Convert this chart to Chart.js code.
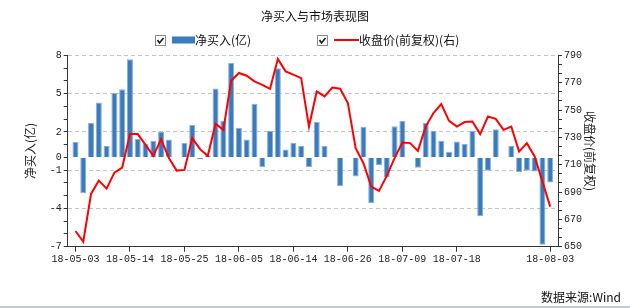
<!DOCTYPE html>
<html>
<head>
<meta charset="utf-8">
<script src="https://cdn.jsdelivr.net/npm/chart.js@4.4.1/dist/chart.umd.min.js"></script>
<style>
html, body { margin: 0; padding: 0; background: #fff; }
#wrap { width: 630px; height: 306px; border-bottom: 2px solid #c3cad4; }
</style>
</head>
<body>
<div id="wrap"><canvas id="chart"></canvas></div>
<script>
// trading days (northbound), net buy in 100m yuan, close price (forward adjusted)
const dates = [
  '18-05-03','18-05-04','18-05-07','18-05-08','18-05-09','18-05-10','18-05-11',
  '18-05-14','18-05-15','18-05-16','18-05-17','18-05-18','18-05-23','18-05-24',
  '18-05-25','18-05-28','18-05-29','18-05-30','18-05-31','18-06-01','18-06-04',
  '18-06-05','18-06-06','18-06-07','18-06-08','18-06-11','18-06-12','18-06-13',
  '18-06-14','18-06-15','18-06-19','18-06-20','18-06-21','18-06-22','18-06-25',
  '18-06-26','18-06-27','18-06-28','18-07-03','18-07-04','18-07-05','18-07-06',
  '18-07-09','18-07-10','18-07-11','18-07-12','18-07-13','18-07-16','18-07-17',
  '18-07-18','18-07-19','18-07-20','18-07-23','18-07-24','18-07-25','18-07-26',
  '18-07-27','18-07-30','18-07-31','18-08-01','18-08-02','18-08-03'
];
const netBuy = [
  1.2, -2.8, 2.7, 4.3, 0.9, 5.05, 5.35, 7.7, 1.45, 1.07,
  1.3, 2.0, 1.4, 0.05, 1.15, 2.55, -0.15, 0.18, 5.4, 2.85,
  7.4, 2.33, 1.4, 4.2, -0.75, 2.1, 7.0, 0.63, 1.15, 0.9,
  -0.75, 2.8, 0.9, 0.05, -2.25, 0.05, -1.5, 2.4, -3.6, -0.6,
  -1.55, 2.45, 2.85, -0.05, -0.8, 2.7, 2.1, 1.3, 0.45, 1.25,
  1.05, 2.1, -4.6, -1.05, 2.2, 0.05, 0.9, -1.15, -1.05, -1.1,
  -6.85, -1.97
];
const closePrice = [
  661.5, 653.6, 688.6, 698.4, 692.5, 704.2, 707.9, 732.4, 732.4, 724.5,
  716.5, 728.7, 714.8, 705.7, 706.2, 729.4, 721.4, 716.5, 740.0, 735.5,
  771.4, 777.1, 775.1, 771.0, 768.5, 765.5, 787.3, 778.3, 775.9, 773.4,
  737.9, 763.6, 760.0, 766.5, 765.6, 755.1, 722.1, 711.1, 694.0, 690.8,
  701.8, 714.8, 726.2, 725.8, 720.1, 737.9, 747.8, 754.4, 742.1, 737.9,
  741.2, 741.6, 732.4, 745.3, 743.6, 735.5, 737.9, 719.6, 725.8, 716.0,
  697.6, 679.3
];
const xTickLabels = ['18-05-03','18-05-14','18-05-25','18-06-05','18-06-14','18-06-26','18-07-09','18-07-18','18-08-03'];
const leftTickLabels = [8, 5, 2, 0, -1, -4, -7];
const leftGridLines = [8, 5, 2, -1, -4];
const leftMin = -7, leftMax = 8;
const rightMin = 650, rightMax = 790, rightStep = 20;

const seriesNames = ['净买入(亿)', '收盘价(前复权)(右)'];
const cjk = '"Noto Sans CJK SC", sans-serif';
const mono = '"Liberation Mono", monospace';
Chart.defaults.font.family = cjk;
Chart.defaults.color = '#222';

function drawCheckBox(ctx, x, y) {
  ctx.fillStyle = '#fff';
  ctx.fillRect(x, y, 11, 11);
  ctx.strokeStyle = '#8a8a8a';
  ctx.lineWidth = 1;
  ctx.strokeRect(x + 0.5, y + 0.5, 10, 10);
  ctx.strokeStyle = '#1a1a1a';
  ctx.lineWidth = 1.6;
  ctx.beginPath();
  ctx.moveTo(x + 2.5, y + 5);
  ctx.lineTo(x + 4.5, y + 8);
  ctx.lineTo(x + 8.5, y + 3);
  ctx.stroke();
}

// legend with checkboxes + source note
const extras = {
  id: 'extras',
  afterDraw(chart) {
    const ctx = chart.ctx;
    ctx.save();
    ctx.font = '12px ' + cjk;
    ctx.textBaseline = 'middle';
    ctx.textAlign = 'left';
    const ly = 40;

    drawCheckBox(ctx, 155, ly - 5);
    ctx.fillStyle = chart.data.datasets[1].backgroundColor;
    ctx.fillRect(172, ly - 3.5, 23, 7);
    ctx.fillStyle = '#111';
    ctx.fillText(seriesNames[0], 195, ly);

    drawCheckBox(ctx, 317, ly - 5);
    ctx.strokeStyle = chart.data.datasets[0].borderColor;
    ctx.lineWidth = 2;
    ctx.beginPath();
    ctx.moveTo(334, ly);
    ctx.lineTo(359, ly);
    ctx.stroke();
    ctx.fillStyle = '#111';
    ctx.fillText(seriesNames[1], 359, ly);

    ctx.textAlign = 'right';
    ctx.fillText('数据来源:Wind', 621, 297);
    ctx.restore();
  }
};

new Chart(document.getElementById('chart'), {
  type: 'bar',
  data: {
    datasets: [{
      type: 'line',
      label: seriesNames[1],
      data: closePrice.map((v, i) => ({x: i, y: v})),
      yAxisID: 'y1',
      borderColor: '#ff0000',
      borderWidth: 2,
      pointRadius: 0,
      tension: 0,
      order: 0
    }, {
      type: 'bar',
      label: seriesNames[0],
      data: netBuy.map((v, i) => ({x: i, y: v})),
      yAxisID: 'y',
      backgroundColor: '#3a7bbd',
      borderColor: '#86afdb',
      borderWidth: 1,
      categoryPercentage: 1,
      barPercentage: 0.77,
      order: 1
    }]
  },
  options: {
    responsive: true,
    maintainAspectRatio: false,
    animation: false,
    layout: { padding: 0 },
    plugins: {
      legend: { display: false },
      tooltip: { enabled: false },
      title: {
        display: true,
        text: '净买入与市场表现图',
        color: '#111',
        font: { size: 12, weight: 'normal' },
        padding: { top: 9, bottom: 32 }
      }
    },
    scales: {
      x: {
        type: 'linear',
        min: -1,
        max: dates.length,
        offset: false,
        afterBuildTicks: axis => {
          axis.ticks = xTickLabels.map(l => ({value: dates.indexOf(l)}));
        },
        afterFit: axis => { axis.height = 59.3; },
        ticks: {
          autoSkip: false,
          maxRotation: 0,
          padding: 2,
          font: { family: mono, size: 10 },
          callback: v => dates[v]
        },
        grid: { drawOnChartArea: false, offset: false, tickLength: 5, tickColor: '#333' },
        border: { color: '#333' }
      },
      y: {
        position: 'left',
        min: leftMin,
        max: leftMax,
        afterBuildTicks: axis => {
          const t = [];
          for (let v = leftMin; v <= leftMax; v++) t.push({value: v});
          axis.ticks = t;
        },
        afterFit: axis => { axis.width = 67.7; },
        ticks: {
          autoSkip: false,
          padding: 2,
          font: { family: mono, size: 10 },
          callback: v => leftTickLabels.includes(v) ? String(v) : ''
        },
        grid: {
          color: c => (c.tick && leftGridLines.includes(c.tick.value)) ? '#c4c4c4' : 'rgba(0,0,0,0)',
          tickLength: 4,
          tickColor: '#333'
        },
        border: { color: '#333', dash: [4, 3] },
        title: {
          display: true,
          text: '净买入(亿)',
          font: { size: 12 },
          padding: { top: 23, bottom: 0 }
        }
      },
      y1: {
        position: 'right',
        min: rightMin,
        max: rightMax,
        afterBuildTicks: axis => {
          const t = [];
          const n = (rightMax - rightMin) / rightStep * 3;
          for (let k = 0; k <= n; k++) t.push({value: rightMin + k * rightStep / 3});
          axis.ticks = t;
        },
        afterFit: axis => { axis.width = 72; },
        ticks: {
          autoSkip: false,
          padding: 2,
          font: { family: mono, size: 10 },
          callback: v => {
            const s = (v - rightMin) / rightStep;
            return Math.abs(s - Math.round(s)) < 1e-6 ? String(Math.round(v)) : '';
          }
        },
        grid: { drawOnChartArea: false, tickLength: 4, tickColor: '#333' },
        border: { color: '#333' },
        title: {
          display: true,
          text: '收盘价(前复权)',
          font: { size: 12 },
          padding: { top: 33, bottom: 0 }
        }
      }
    }
  },
  plugins: [extras]
});
</script>
</body>
</html>
